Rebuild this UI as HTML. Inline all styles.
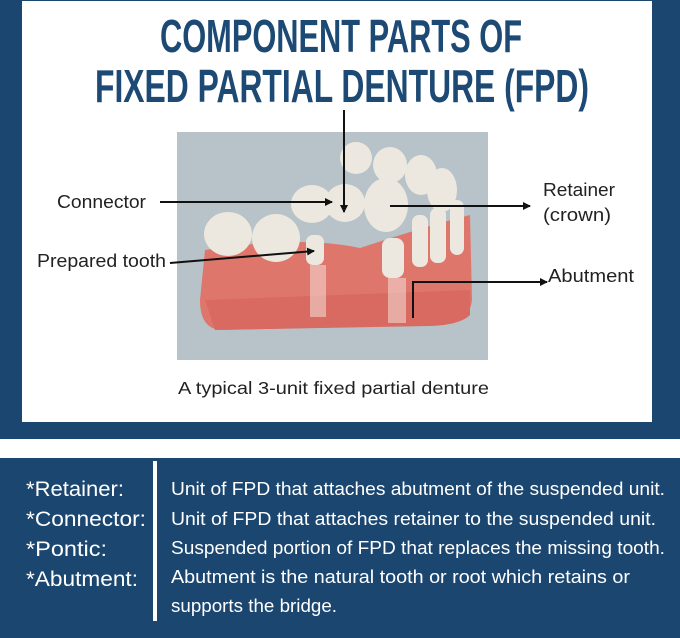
<!DOCTYPE html>
<html><head><meta charset="utf-8"><style>
html,body{margin:0;padding:0;}
body{width:680px;height:632px;background:#1b4670;position:relative;overflow:hidden;font-family:"Liberation Sans",sans-serif;}
.panel{position:absolute;left:22px;top:1px;width:630px;height:421px;background:#fff;}
.strip{position:absolute;left:0;top:439px;width:680px;height:19px;background:#fff;}
.bar{position:absolute;left:153px;top:461px;width:4px;height:160px;background:#fff;}
</style></head><body>
<div class="panel"></div>
<div class="strip"></div>
<svg width="680" height="440" style="position:absolute;left:0;top:0">
<defs><marker id="a" markerWidth="8" markerHeight="8" refX="7" refY="4" orient="auto" markerUnits="userSpaceOnUse"><path d="M0,0 L8,4 L0,8 z" fill="#111"/></marker></defs>
<g font-family="'Liberation Sans Narrow','Liberation Sans',sans-serif" font-weight="bold" fill="#1d4a74" text-anchor="middle">
<text x="341" y="52" font-size="46" textLength="362" lengthAdjust="spacingAndGlyphs">COMPONENT PARTS OF</text>
<text x="342" y="102" font-size="46" textLength="494" lengthAdjust="spacingAndGlyphs">FIXED PARTIAL DENTURE (FPD)</text>
</g>
<rect x="177" y="132" width="311" height="228" fill="#b7c3c8"/>
<path d="M205,250 Q300,235 360,248 Q430,225 470,215 L472,300 Q470,322 440,325 L220,330 Q200,328 200,300 Z" fill="#df766c"/>
<path d="M205,300 L470,290 L470,315 Q460,325 430,326 L215,330 Z" fill="#d86a62"/>
<g fill="#ece8df">
<ellipse cx="228" cy="234" rx="24" ry="22"/>
<ellipse cx="276" cy="238" rx="24" ry="24"/>
<rect x="306" y="235" width="18" height="30" rx="7"/>
<ellipse cx="312" cy="204" rx="21" ry="19"/>
<ellipse cx="345" cy="203" rx="20" ry="19"/>
<ellipse cx="386" cy="205" rx="22" ry="27"/>
<ellipse cx="356" cy="158" rx="16" ry="16"/>
<ellipse cx="390" cy="165" rx="17" ry="18"/>
<ellipse cx="421" cy="175" rx="16" ry="20"/>
<ellipse cx="442" cy="190" rx="15" ry="22"/>
<rect x="382" y="238" width="22" height="40" rx="8"/>
<rect x="412" y="215" width="16" height="52" rx="7"/>
<rect x="430" y="208" width="16" height="55" rx="7"/>
<rect x="450" y="200" width="14" height="55" rx="7"/>
</g>
<g fill="#f0c8c0" opacity="0.7"><rect x="310" y="265" width="16" height="52"/><rect x="388" y="278" width="18" height="45"/></g>
<g stroke="#111" stroke-width="2" fill="none">
<line x1="344" y1="110" x2="344" y2="212" marker-end="url(#a)"/>
<line x1="160" y1="202" x2="332" y2="202" marker-end="url(#a)"/>
<line x1="170" y1="263" x2="314" y2="251" marker-end="url(#a)"/>
<line x1="390" y1="206" x2="530" y2="206" marker-end="url(#a)"/>
<polyline points="413,318 413,282 547,282" marker-end="url(#a)"/>
</g>
<g font-family="'Liberation Sans',sans-serif" font-size="18" fill="#222">
<text x="57" y="208" textLength="89" lengthAdjust="spacingAndGlyphs">Connector</text>
<text x="37" y="267" textLength="129" lengthAdjust="spacingAndGlyphs">Prepared tooth</text>
<text x="543" y="196" textLength="72" lengthAdjust="spacingAndGlyphs">Retainer</text>
<text x="543" y="221" textLength="68" lengthAdjust="spacingAndGlyphs">(crown)</text>
<text x="548" y="282" textLength="86" lengthAdjust="spacingAndGlyphs">Abutment</text>
<text x="178" y="394" font-size="17.5" textLength="311" lengthAdjust="spacingAndGlyphs">A typical 3-unit fixed partial denture</text>
</g>
</svg>
<div class="bar"></div>
<svg width="680" height="180" style="position:absolute;left:0;top:458px">
<g font-family="'Liberation Sans',sans-serif" fill="#fff">
<g font-size="21">
<text x="26" y="38" textLength="98" lengthAdjust="spacingAndGlyphs">*Retainer:</text>
<text x="26" y="68" textLength="120" lengthAdjust="spacingAndGlyphs">*Connector:</text>
<text x="26" y="98" textLength="81" lengthAdjust="spacingAndGlyphs">*Pontic:</text>
<text x="26" y="128" textLength="112" lengthAdjust="spacingAndGlyphs">*Abutment:</text>
</g>
<g font-size="18.5">
<text x="171" y="37" textLength="494" lengthAdjust="spacingAndGlyphs">Unit of FPD that attaches abutment of the suspended unit.</text>
<text x="171" y="67" textLength="485" lengthAdjust="spacingAndGlyphs">Unit of FPD that attaches retainer to the suspended unit.</text>
<text x="171" y="96" textLength="494" lengthAdjust="spacingAndGlyphs">Suspended portion of FPD that replaces the missing tooth.</text>
<text x="171" y="125" textLength="459" lengthAdjust="spacingAndGlyphs">Abutment is the natural tooth or root which retains or</text>
<text x="171" y="154" textLength="166" lengthAdjust="spacingAndGlyphs">supports the bridge.</text>
</g>
</g>
</svg>
</body></html>
